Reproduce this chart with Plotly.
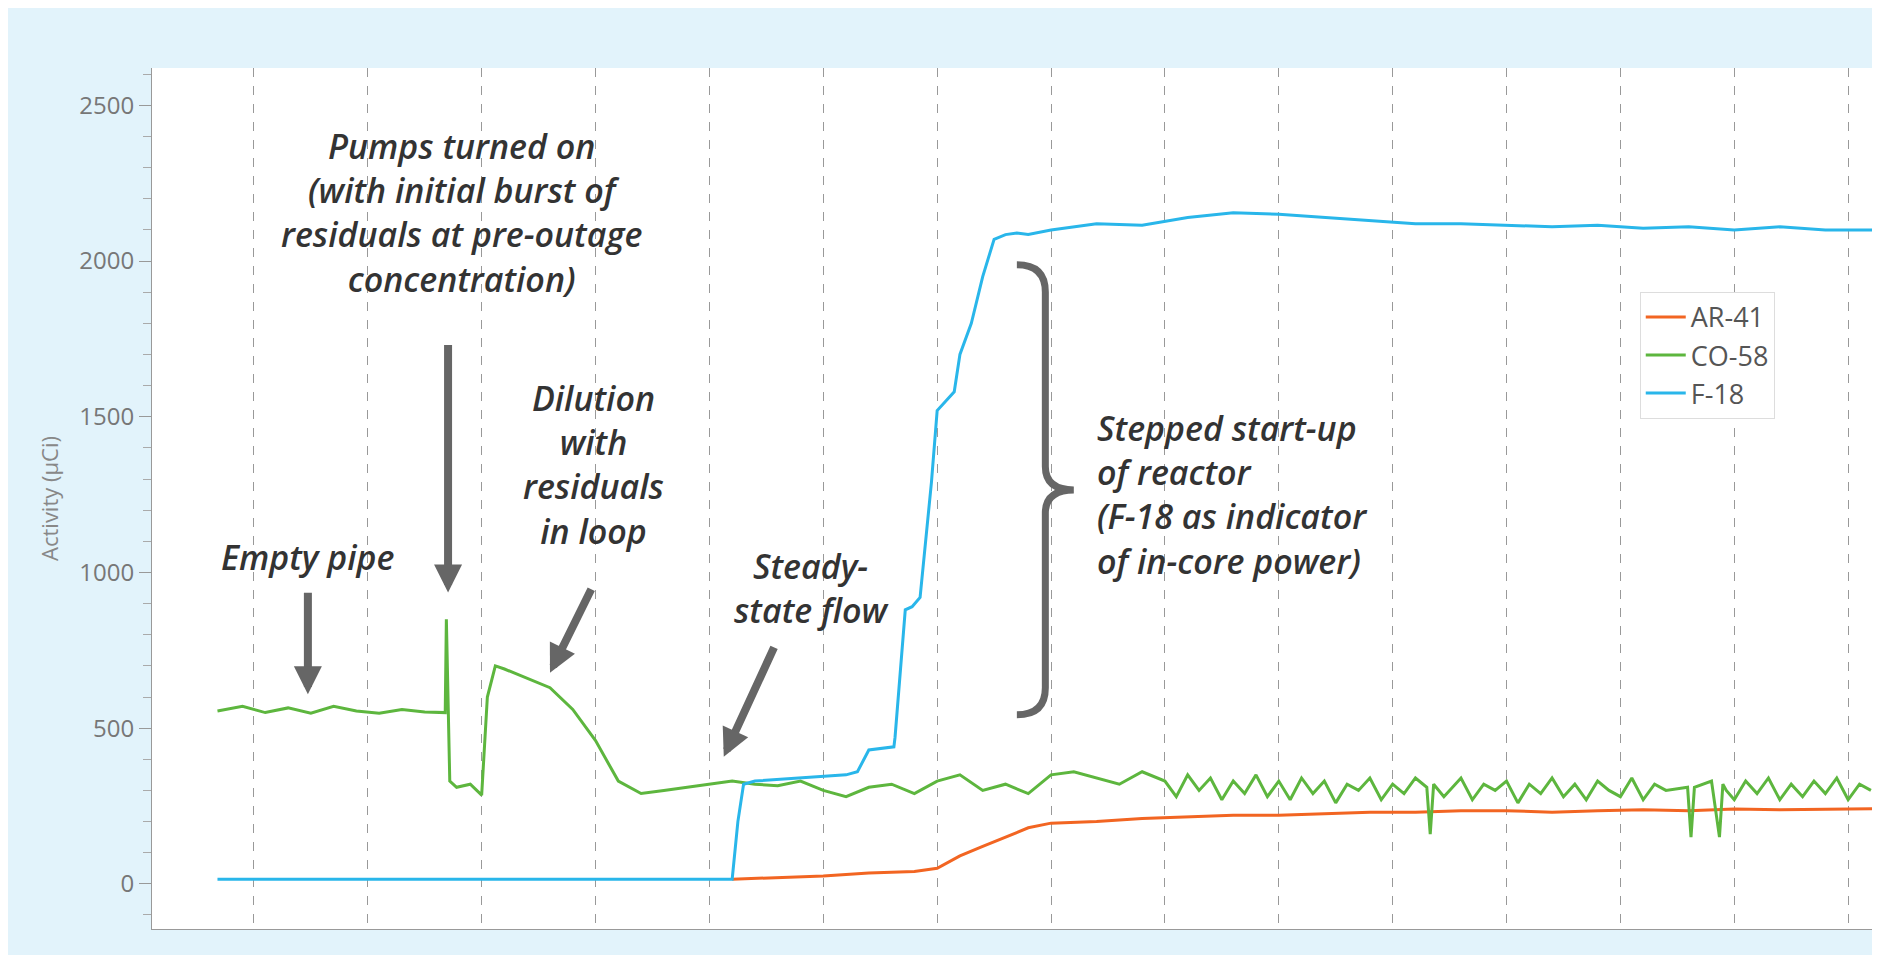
import plotly.graph_objects as go

# x in grid units (dashed gridlines at 1..15)
co58_x = [0.68,0.9,1.1,1.3,1.5,1.7,1.9,2.1,2.3,2.5,2.68,2.69,2.72,2.78,2.9,3.0,3.05,3.12,3.2,3.4,3.6,3.8,4.0,4.2,4.4,4.6,4.8,5.0,5.2,5.4,5.6,5.8,6.0,6.2,6.4,6.6,6.8,7.0,7.2,7.4,7.6,7.8,8.0,8.2,8.4,8.6,8.8,9.0,9.1,9.2,9.3,9.4,9.5,9.6,9.7,9.8,9.9,10.0,10.1,10.2,10.3,10.4,10.5,10.6,10.7,10.8,10.9,11.0,11.1,11.2,11.3,11.33,11.36,11.45,11.6,11.7,11.8,11.9,12.0,12.1,12.2,12.3,12.4,12.5,12.6,12.7,12.8,12.9,13.0,13.1,13.2,13.3,13.4,13.59,13.62,13.65,13.8,13.87,13.9,13.93,14.0,14.1,14.2,14.3,14.4,14.5,14.6,14.7,14.8,14.9,15.0,15.1,15.2,15.35]
co58_y = [555,570,550,565,548,570,555,548,560,552,550,850,330,310,320,285,600,700,690,660,630,560,460,330,290,300,310,320,330,320,315,330,300,280,310,320,290,330,350,300,320,290,350,360,340,320,360,330,280,350,300,340,270,330,290,350,280,330,270,340,290,330,260,320,300,340,270,320,290,340,310,160,320,280,340,270,320,300,330,260,320,290,340,280,320,270,330,300,280,340,270,320,300,310,150,310,330,150,320,300,270,330,290,340,270,320,280,330,290,340,270,320,300]
f18_x = [0.68,2.0,3.0,4.0,5.0,5.2,5.25,5.3,5.4,5.8,6.2,6.3,6.4,6.62,6.63,6.72,6.78,6.85,6.9,6.95,7.0,7.05,7.15,7.2,7.3,7.4,7.5,7.6,7.7,7.8,8.0,8.4,8.8,9.2,9.6,10.0,10.4,10.8,11.2,11.6,12.0,12.4,12.8,13.2,13.6,14.0,14.4,14.8,15.35]
f18_y = [15,15,15,15,15,15,200,320,330,340,350,360,430,440,470,880,890,920,1100,1290,1520,1540,1580,1700,1800,1950,2070,2085,2090,2085,2100,2120,2115,2140,2155,2150,2140,2130,2120,2120,2115,2110,2115,2105,2110,2100,2110,2100,2100]
ar41_x = [5.2,5.6,6.0,6.4,6.8,7.0,7.2,7.4,7.6,7.8,8.0,8.4,8.8,9.2,9.6,10.0,10.4,10.8,11.2,11.6,12.0,12.4,12.8,13.2,13.6,14.0,14.4,14.8,15.35]
ar41_y = [15,20,25,35,40,50,90,120,150,180,195,200,210,215,220,220,225,230,230,235,235,230,235,238,235,240,238,240,242]

fig = go.Figure()
fig.add_trace(go.Scatter(x=ar41_x, y=ar41_y, name="AR-41", mode="lines", line=dict(color="#f26522", width=3)))
fig.add_trace(go.Scatter(x=co58_x, y=co58_y, name="CO-58", mode="lines", line=dict(color="#5db63e", width=3)))
fig.add_trace(go.Scatter(x=f18_x, y=f18_y, name="F-18", mode="lines", line=dict(color="#29b6ea", width=3)))

afont = dict(family="Open Sans", size=34, color="#333333", style="italic", weight=600)
texts = [
    (2.82, 2450, "Pumps turned on<br>(with initial burst of<br>residuals at pre-outage<br>concentration)", "center"),
    (1.47, 1130, "Empty pipe", "center"),
    (3.98, 1641, "Dilution<br>with<br>residuals<br>in loop", "center"),
    (5.9, 1102, "Steady-<br>state flow", "center"),
    (8.39, 1545, "Stepped start-up<br>of reactor<br>(F-18 as indicator<br>of in-core power)", "left"),
]
for x, y, t, al in texts:
    fig.add_annotation(x=x, y=y, text=t, showarrow=False, xanchor="center" if al == "center" else "left",
                       yanchor="top", align=al, font=afont)
arrows = [(1.474, 609, 0, -103), (2.705, 936, 0, -249), (3.6, 678, 42, -85), (5.126, 408, 51, -111)]
for x, y, ax, ay in arrows:
    fig.add_annotation(x=x, y=y, ax=ax, ay=ay, text="", showarrow=True, arrowhead=2, arrowsize=0.7,
                       arrowwidth=8, arrowcolor="#666666")

fig.add_shape(type="path", xref="x", yref="y",
              path="M 7.7,1988 Q 7.95,1988 7.95,1900 L 7.95,1340 Q 7.95,1265 8.2,1265 Q 7.95,1265 7.95,1190 L 7.95,630 Q 7.95,543 7.7,543",
              line=dict(color="#666666", width=7))

fig.update_layout(
    width=1880, height=955, paper_bgcolor="#e2f3fb", plot_bgcolor="white",
    margin=dict(l=144, r=0, t=60, b=34),
    showlegend=True,
    legend=dict(x=0.857, y=0.74, xanchor="left", yanchor="top", bgcolor="white", bordercolor="#dddddd",
                borderwidth=1, font=dict(family="Open Sans", size=27, color="#555555"), itemwidth=40),
    xaxis=dict(range=[0.105, 15.35], showticklabels=False, tickvals=list(range(1, 16)), showgrid=True,
               gridcolor="#999999", griddash="dash", gridwidth=1, zeroline=False, showline=True,
               linecolor="#999999", ticks=""),
    yaxis=dict(range=[-145, 2620], tickvals=[0, 500, 1000, 1500, 2000, 2500], showgrid=False, zeroline=False,
               showline=True, linecolor="#999999", ticks="outside", ticklen=12, tickcolor="#999999",
               minor=dict(dtick=100, ticks="outside", ticklen=8, tickcolor="#aaaaaa"),
               tickfont=dict(family="Open Sans", size=24, color="#777777"),
               title=dict(text="Activity (µCi)", font=dict(family="Open Sans", size=22, color="#888888"), standoff=14)),
)
fig.write_html("out.html")
